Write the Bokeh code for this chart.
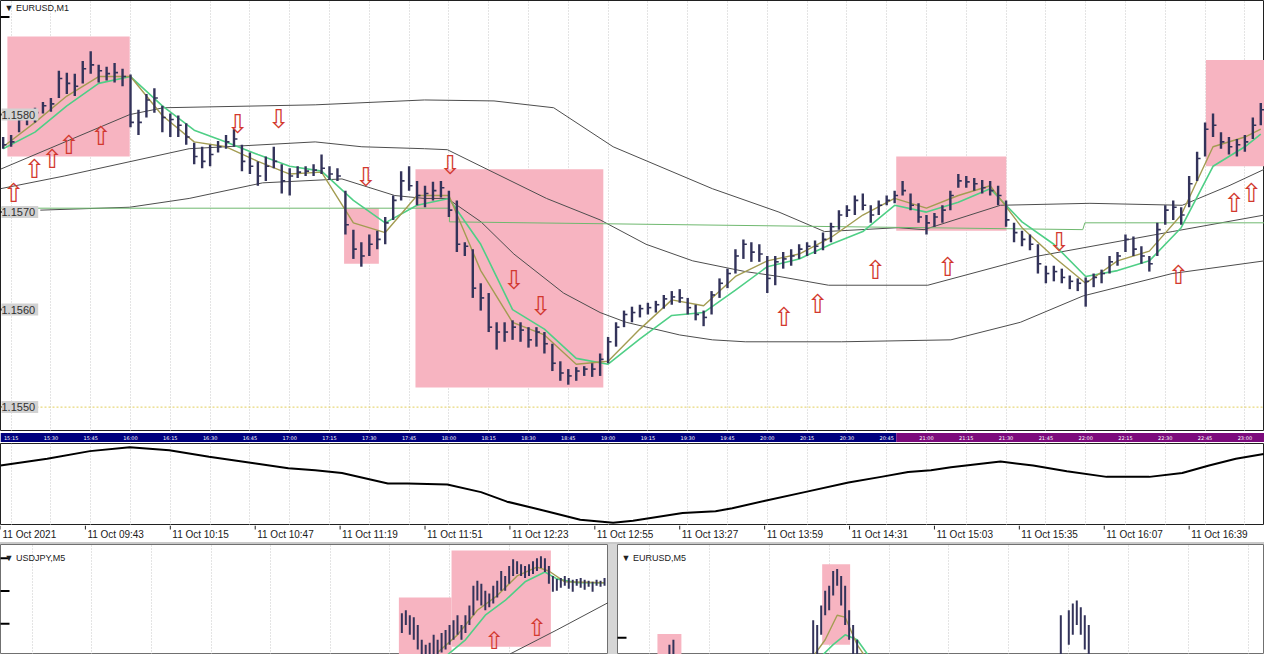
from bokeh.plotting import figure
from bokeh.models import Range1d, FixedTicker, Label, Span, Spacer
from bokeh.layouts import column, row
from bokeh.embed import file_html
from bokeh.resources import INLINE
from bokeh.core.properties import value

# ================= DATA =================
# ---- EURUSD,M1 main chart (time = minutes after 11 Oct 09:11, one sampled bar per 3 minutes)
bar_t = list(range(1, 476, 3))
bar_high = [1.15777,1.15779,1.15799,1.15805,1.15807,1.15813,1.15817,1.15845,1.15843,1.15842,
            1.15855,1.15865,1.15851,1.15849,1.15853,1.15847,1.15841,1.15805,1.15821,1.15827,
            1.15809,1.15801,1.15799,1.15791,1.15771,1.15767,1.15769,1.15773,1.15779,1.15785,
            1.15769,1.15761,1.15752,1.15757,1.15767,1.15749,1.15745,1.15747,1.15747,1.15749,
            1.15759,1.15747,1.15745,1.15722,1.15682,1.15669,1.15677,1.15681,1.15695,1.15717,
            1.15742,1.15747,1.15732,1.15727,1.15731,1.15732,1.15722,1.15712,1.15669,1.15662,
            1.15627,1.15617,1.15587,1.15587,1.15589,1.15587,1.15582,1.15582,1.15577,1.15565,
            1.15547,1.15539,1.15541,1.15542,1.15545,1.15555,1.15572,1.15587,1.15599,1.15603,
            1.15605,1.15607,1.15609,1.15615,1.15619,1.15621,1.15612,1.15605,1.15599,1.15619,
            1.15632,1.15642,1.15662,1.15672,1.15669,1.15667,1.15655,1.15655,1.15659,1.15662,
            1.15667,1.15669,1.15671,1.15679,1.15689,1.15702,1.15707,1.15717,1.15719,1.15707,
            1.15712,1.15717,1.15722,1.15732,1.15719,1.15709,1.15697,1.15699,1.15707,1.15722,
            1.15739,1.15737,1.15735,1.15733,1.15732,1.15727,1.15712,1.15689,1.15681,1.15677,
            1.15667,1.15645,1.15645,1.15642,1.15635,1.15632,1.15633,1.15637,1.15641,1.15655,
            1.15659,1.15677,1.15675,1.15665,1.15655,1.15689,1.15707,1.15712,1.15705,1.15737,
            1.15762,1.15792,1.15801,1.15782,1.15777,1.15775,1.15779,1.15797,1.15812]
bar_low = [1.15765,1.15767,1.15782,1.15789,1.15792,1.15801,1.15803,1.15817,1.15821,1.15819,
           1.15832,1.15842,1.15833,1.15835,1.15833,1.15829,1.15787,1.15779,1.15797,1.15802,
           1.15782,1.15777,1.15777,1.15769,1.15749,1.15745,1.15747,1.15761,1.15765,1.15767,
           1.15742,1.15739,1.15727,1.15732,1.15745,1.15719,1.15717,1.15735,1.15737,1.15737,
           1.15739,1.15733,1.15732,1.15677,1.15652,1.15644,1.15655,1.15662,1.15667,1.15692,
           1.15712,1.15722,1.15707,1.15705,1.15712,1.15715,1.15695,1.15659,1.15655,1.15612,
           1.15599,1.15577,1.15559,1.15567,1.15569,1.15567,1.15561,1.15562,1.15555,1.15537,
           1.15527,1.15523,1.15527,1.15532,1.15531,1.15532,1.15545,1.15562,1.15582,1.15587,
           1.15592,1.15595,1.15597,1.15601,1.15605,1.15607,1.15595,1.15589,1.15583,1.15595,
           1.15612,1.15622,1.15637,1.15652,1.15649,1.15649,1.15617,1.15625,1.15642,1.15645,
           1.15652,1.15655,1.15657,1.15661,1.15669,1.15682,1.15695,1.15697,1.15702,1.15689,
           1.15697,1.15707,1.15709,1.15717,1.15702,1.15689,1.15677,1.15685,1.15689,1.15702,
           1.15725,1.15725,1.15722,1.15719,1.15717,1.15707,1.15685,1.15669,1.15665,1.15661,
           1.15637,1.15627,1.15629,1.15627,1.15621,1.15619,1.15603,1.15623,1.15627,1.15637,
           1.15645,1.15659,1.15655,1.15647,1.15639,1.15655,1.15687,1.15692,1.15687,1.15705,
           1.15732,1.15757,1.15777,1.15765,1.15759,1.15757,1.15762,1.15775,1.15789]
bar_close = [1.15769,1.15772,1.15795,1.15799,1.15802,1.15809,1.15811,1.15837,1.15832,1.15829,
             1.15847,1.15851,1.15845,1.15842,1.15843,1.15839,1.15792,1.15792,1.15815,1.15817,
             1.15797,1.15795,1.15789,1.15777,1.15757,1.15752,1.15759,1.15767,1.15772,1.15775,
             1.15752,1.15747,1.15737,1.15747,1.15752,1.15732,1.15737,1.15741,1.15742,1.15743,
             1.15745,1.15739,1.15737,1.15687,1.15662,1.15655,1.15667,1.15672,1.15689,1.15712,
             1.15732,1.15727,1.15717,1.15719,1.15722,1.15725,1.15702,1.15667,1.15665,1.15622,
             1.15612,1.15582,1.15577,1.15577,1.15582,1.15579,1.15569,1.15577,1.15565,1.15545,
             1.15535,1.15532,1.15537,1.15539,1.15539,1.15549,1.15567,1.15582,1.15595,1.15597,
             1.15601,1.15602,1.15605,1.15611,1.15613,1.15612,1.15602,1.15595,1.15592,1.15615,
             1.15627,1.15637,1.15655,1.15667,1.15659,1.15657,1.15632,1.15649,1.15652,1.15655,
             1.15662,1.15665,1.15665,1.15672,1.15685,1.15697,1.15702,1.15712,1.15707,1.15697,
             1.15707,1.15712,1.15717,1.15722,1.15707,1.15695,1.15689,1.15695,1.15702,1.15717,
             1.15732,1.15731,1.15729,1.15725,1.15722,1.15717,1.15692,1.15679,1.15672,1.15667,
             1.15647,1.15637,1.15639,1.15633,1.15629,1.15627,1.15629,1.15633,1.15637,1.15649,
             1.15655,1.15672,1.15662,1.15655,1.15647,1.15682,1.15702,1.15705,1.15697,1.15729,
             1.15755,1.15785,1.15789,1.15772,1.15767,1.15769,1.15772,1.15789,1.15805]

ma_t = list(range(1, 470, 12)) + [475]
ma_fast = [1.15767,1.15792,1.15819,1.15839,1.15839,1.15799,1.15772,1.15767,1.15752,1.15739,
           1.15741,1.15689,1.15679,1.15717,1.15717,1.15640,1.15587,1.15574,1.15544,1.15547,
           1.15580,1.15610,1.15604,1.15634,1.15650,1.15657,1.15674,1.15697,1.15714,1.15704,
           1.15717,1.15727,1.15684,1.15654,1.15627,1.15650,1.15660,1.15697,1.15767,1.15777,1.15785]
ma_slow = [1.15765,1.15782,1.15809,1.15832,1.15839,1.15809,1.15784,1.15772,1.15759,1.15747,
           1.15742,1.15712,1.15689,1.15707,1.15714,1.15667,1.15600,1.15580,1.15550,1.15544,
           1.15570,1.15594,1.15597,1.15620,1.15644,1.15652,1.15667,1.15680,1.15707,1.15700,
           1.15710,1.15724,1.15690,1.15667,1.15634,1.15640,1.15650,1.15684,1.15747,1.15767,1.15780]

band_up_t = [0, 48.7, 61.4, 118.6, 159.8, 186.0, 208.5, 230.9, 268.3, 293.4, 310.6, 338.3,
             348.1, 376.9, 410.6, 445.4, 463.0, 476.4]
band_up = [1.15744,1.15800,1.15807,1.15810,1.15815,1.15814,1.15807,1.15767,1.15724,1.15700,
           1.15680,1.15684,1.15682,1.15707,1.15709,1.15707,1.15727,1.15744]
band_mid_t = [0, 24.0, 71.1, 118.6, 136.2, 159.8, 168.4, 181.1, 205.8, 226.0, 243.3, 260.9,
              280.7, 293.4, 312.1, 349.5, 389.2, 441.6, 476.4]
band_mid = [1.15724,1.15737,1.15765,1.15772,1.15767,1.15765,1.15764,1.15747,1.15714,1.15692,
            1.15667,1.15650,1.15639,1.15634,1.15625,1.15625,1.15654,1.15680,1.15697]
band_low_t = [15.0, 48.7, 71.1, 98.8, 128.7, 148.6, 159.8, 168.4, 181.1, 193.5, 212.2, 226.0,
              235.8, 256.0, 268.3, 280.7, 317.0, 358.2, 384.4, 408.0, 441.6, 476.4]
band_low = [1.15702,1.15705,1.15714,1.15730,1.15734,1.15717,1.15714,1.15714,1.15690,1.15657,
            1.15617,1.15597,1.15587,1.15574,1.15569,1.15567,1.15567,1.15569,1.15587,1.15614,
            1.15637,1.15650]

level_t = [0, 169.2, 169.2, 407.9, 408.7, 476.4]
level_p = [1.15704, 1.15704, 1.15690, 1.15682, 1.15689, 1.15689]

box_left = [2.6, 129.5, 156.4, 337.6, 454.3]
box_right = [48.7, 142.6, 227.2, 379.1, 476.4]
box_top = [1.15880, 1.15704, 1.15744, 1.15757, 1.15856]
box_bottom = [1.15757, 1.15647, 1.15520, 1.15681, 1.15747]

up_t = [5.0, 12.8, 19.5, 25.8, 37.8, 295.3, 308.0, 329.7, 357.0, 443.9, 465.0, 471.5]
up_p = [1.15720, 1.15744, 1.15754, 1.15769, 1.15778, 1.15592, 1.15606, 1.15641, 1.15644,
        1.15635, 1.15709, 1.15720]
dn_t = [89.4, 104.8, 137.7, 169.5, 193.5, 203.6, 399.0]
dn_p = [1.15790, 1.15795, 1.15736, 1.15748, 1.15630, 1.15604, 1.15669]

price_labels = [1.1580, 1.1570, 1.1560, 1.1550]
price_dash_ticks = [1.1590, 1.1580, 1.1570, 1.1560, 1.1550]
dotted_level = 1.1550

# time strip (server time = chart time + 6h)
strip_labels = ["15:15","15:30","15:45","16:00","16:15","16:30","16:45","17:00",
                "17:15","17:30","17:45","18:00","18:15","18:30","18:45","19:00",
                "19:15","19:30","19:45","20:00","20:15","20:30","20:45","21:00",
                "21:15","21:30","21:45","22:00","22:15","22:30","22:45","23:00"]
strip_left = [0, 337.6]
strip_right = [337.6, 476.4]
strip_colors = ["#00007e", "#7c0a7c"]

# oscillator pane
osc_t = [0, 17.6, 33.7, 48.7, 63.6, 78.6, 96.2, 108.5, 118.6, 128.7, 146.0, 153.4, 168.4,
         181.1, 190.9, 205.8, 218.5, 230.9, 238.4, 257.1, 269.5, 275.8, 288.2, 303.1, 319.6,
         331.9, 342.1, 350.7, 358.2, 376.9, 389.2, 401.9, 416.9, 433.0, 445.4, 455.5, 465.6, 476.1]
osc_v = [63, 70, 78, 82, 79, 72, 65, 60, 58, 55, 44, 44, 43, 35, 25, 15, 6, 3, 5, 13, 15, 18,
         26, 35, 45, 51, 56, 58, 61, 67, 63, 57, 51, 51, 55, 63, 70, 75]

axis_t = [0, 32, 64, 96, 128, 160, 192, 224, 256, 288, 320, 352, 384, 416, 448]
axis_labels = ["11 Oct 2021", "11 Oct 09:43", "11 Oct 10:15", "11 Oct 10:47", "11 Oct 11:19",
               "11 Oct 11:51", "11 Oct 12:23", "11 Oct 12:55", "11 Oct 13:27", "11 Oct 13:59",
               "11 Oct 14:31", "11 Oct 15:03", "11 Oct 15:35", "11 Oct 16:07", "11 Oct 16:39"]

# ---- USDJPY,M5 panel (bar index)
uj_k = list(range(101, 153))
uj_high = [113.264,113.282,113.252,113.240,113.192,113.102,113.072,113.084,113.132,113.102,
           113.144,113.162,113.192,113.222,113.252,113.192,113.252,113.312,113.432,113.462,
           113.444,113.402,113.384,113.432,113.462,113.522,113.492,113.552,113.594,113.582,
           113.564,113.552,113.564,113.582,113.600,113.612,113.600,113.552,113.492,113.474,
           113.480,113.492,113.480,113.468,113.474,113.480,113.468,113.462,113.456,113.468,
           113.462,113.480]
uj_low = [113.144,113.192,113.132,113.102,113.042,113.012,112.976,113.000,113.012,113.000,
          113.024,113.042,113.072,113.102,113.132,113.102,113.144,113.192,113.252,113.342,
          113.312,113.282,113.300,113.324,113.360,113.402,113.402,113.444,113.492,113.504,
          113.492,113.480,113.492,113.504,113.522,113.540,113.516,113.444,113.396,113.402,
          113.420,113.432,113.414,113.396,113.432,113.420,113.408,113.426,113.396,113.432,
          113.426,113.432]
uj_fast_k = [110, 115, 120, 125, 130, 135, 138, 142, 152]
uj_fast = [113.024, 113.132, 113.282, 113.372, 113.492, 113.546, 113.522, 113.456, 113.450]
uj_slow_k = [112, 117, 122, 127, 132, 137, 140, 145, 152]
uj_slow = [113.000, 113.102, 113.252, 113.342, 113.456, 113.516, 113.474, 113.450, 113.450]
uj_band_k = [127, 140, 153]
uj_band = [113.000, 113.162, 113.330]
uj_box_left = [100.25, 113.5]
uj_box_right = [113.5, 138.5]
uj_box_top = [113.360, 113.648]
uj_box_bottom = [112.952, 113.060]
uj_up_k = [124.25, 135]
uj_up_p = [113.095, 113.174]
uj_ticks = [113.2, 113.4, 113.6]
uj_grid = [8, 23, 38, 53, 68, 83, 98, 113, 128, 143]

# ---- EURUSD,M5 panel (bar index)
eu_k = [13, 14, 49, 50, 51, 52, 53, 54, 55, 56, 57, 58, 59, 60, 111, 113, 114, 115, 116, 117, 118]
eu_high = [1.15686,1.15696,1.15736,1.15726,1.15766,1.15796,1.15806,1.15836,1.15840,1.15826,
           1.15806,1.15756,1.15726,1.15696,1.15746,1.15756,1.15770,1.15776,1.15762,1.15746,1.15726]
eu_low = [1.15662,1.15666,1.15662,1.15666,1.15706,1.15746,1.15756,1.15786,1.15806,1.15766,
          1.15726,1.15696,1.15666,1.15662,1.15662,1.15686,1.15706,1.15726,1.15706,1.15676,1.15662]
eu_fast_k = [49, 52, 55, 57, 60, 62]
eu_fast = [1.15662, 1.15696, 1.15746, 1.15742, 1.15686, 1.15662]
eu_slow_k = [51, 54, 57, 60, 63]
eu_slow = [1.15662, 1.15686, 1.15706, 1.15696, 1.15662]
eu_box_left = [10.0, 51.25]
eu_box_right = [16.0, 58.25]
eu_box_top = [1.15708, 1.15850]
eu_box_bottom = [1.15646, 1.15686]
eu_ticks = [1.1570]
eu_grid = [8, 23, 38, 53, 68, 83, 98, 113, 128, 143, 158]

# ================= STYLE =================
W = 1264
BAR = "#33335a"
FAST = "#a39c52"
SLOW = "#4fcf86"
BAND = "#4d4d4d"
PINK = "#f7b4c1"
RED = "#d2382e"
GRID = "#c8c8c8"
FONT = "Liberation Sans"


def base_fig(width, height, x_range, y_range):
    p = figure(width=width, height=height, x_range=x_range, y_range=y_range,
               output_backend="svg", toolbar_location=None, min_border=0,
               background_fill_color="white", border_fill_color="white")
    p.xaxis.visible = False
    p.yaxis.visible = False
    p.ygrid.visible = False
    p.xgrid.grid_line_color = GRID
    p.xgrid.grid_line_dash = "1 2"
    p.outline_line_color = "#202020"
    return p


def strip_time(lbl):
    h, m = lbl.split(":")
    return (int(h) - 6) * 60 + int(m) - (9 * 60 + 11)


grid_t = [strip_time(s) for s in strip_labels]

# ---------- main chart ----------
xr = Range1d(0, 476.4)
main = base_fig(W, 431, xr, Range1d(1.15475, 1.15917))
main.xgrid.ticker = FixedTicker(ticks=grid_t)

main.quad(left=box_left, right=box_right, top=box_top, bottom=box_bottom,
          fill_color=PINK, line_color=None)
main.add_layout(Span(location=dotted_level, dimension="width", line_color="#e2cf5a",
                     line_dash="2 2", line_width=1))
main.line(band_up_t, band_up, line_color=BAND, line_width=1)
main.line(band_mid_t, band_mid, line_color=BAND, line_width=1)
main.line(band_low_t, band_low, line_color=BAND, line_width=1)
main.line(level_t, level_p, line_color="#6fb86f", line_width=1)
main.line(ma_t, ma_slow, line_color=SLOW, line_width=1.6)
main.line(ma_t, ma_fast, line_color=FAST, line_width=1.4)

tick_end = [t + 1.3 for t in bar_t]
main.segment(x0=bar_t, y0=bar_low, x1=bar_t, y1=bar_high, line_color=BAR, line_width=2.4)
main.segment(x0=bar_t, y0=bar_close, x1=tick_end, y1=bar_close, line_color=BAR, line_width=1.6)

main.text(x=up_t, y=up_p, text=["\u21e7"] * len(up_t), text_color=RED, text_font_size="26px",
          text_align="center", text_baseline="middle", text_font=value("DejaVu Sans"))
main.text(x=dn_t, y=dn_p, text=["\u21e9"] * len(dn_t), text_color=RED, text_font_size="26px",
          text_align="center", text_baseline="middle", text_font=value("DejaVu Sans"))

main.scatter(x=[xr.start] * len(price_dash_ticks), y=price_dash_ticks, marker="dash",
             size=18, line_color="black", line_width=2)
for pv in price_labels:
    main.add_layout(Label(x=1, x_units="screen", y=pv, text="%.4f " % pv,
                          text_font=FONT, text_font_size="11px", text_color="#303030",
                          text_baseline="middle", background_fill_color="#d2d2d2"))
main.add_layout(Label(x=4, y=424, x_units="screen", y_units="screen",
                      text="\u25bc EURUSD,M1", text_font=FONT, text_font_size="9px",
                      text_color="#202020", text_baseline="middle"))

# ---------- time strip ----------
strip = base_fig(W, 12, xr, Range1d(0, 1))
strip.xgrid.visible = False
strip.outline_line_color = None
strip.quad(left=strip_left, right=strip_right, bottom=0.12, top=0.88,
           fill_color=strip_colors, line_color=None)
strip.text(x=grid_t, y=[0.5] * len(grid_t), text=strip_labels, text_color="white",
           text_font_size="5px", text_align="center", text_baseline="middle",
           text_font=value("DejaVu Sans"))

# ---------- oscillator pane ----------
osc = base_fig(W, 82, xr, Range1d(0, 86))
osc.xgrid.ticker = FixedTicker(ticks=grid_t)
osc.line(osc_t, osc_v, line_color="black", line_width=2)

# ---------- time axis (labels left-aligned at their ticks) ----------
ax = base_fig(W, 17, xr, Range1d(0, 17))
ax.xgrid.visible = False
ax.outline_line_color = None
ax.segment(x0=axis_t, y0=[17] * len(axis_t), x1=axis_t, y1=[13] * len(axis_t),
           line_color="#202020", line_width=1)
ax.text(x=axis_t, y=[8] * len(axis_t), text=axis_labels, x_offset=2,
        text_align="left", text_baseline="middle", text_font_size="10px",
        text_color="#202020", text_font=value(FONT))

sep = Spacer(width=W, height=2, styles={"background-color": "#c9c9c9"})

# ---------- USDJPY,M5 ----------
uj_x = Range1d(0, 153)
uj = base_fig(608, 110, uj_x, Range1d(113.012, 113.684))
uj.xgrid.ticker = FixedTicker(ticks=uj_grid)
uj.outline_line_color = "#707070"
uj.quad(left=uj_box_left, right=uj_box_right, top=uj_box_top, bottom=uj_box_bottom,
        fill_color=PINK, line_color=None)
uj.line(uj_band_k, uj_band, line_color=BAND, line_width=1)
uj.line(uj_slow_k, uj_slow, line_color=SLOW, line_width=1.6)
uj.line(uj_fast_k, uj_fast, line_color=FAST, line_width=1.4)
uj.segment(x0=uj_k, y0=uj_low, x1=uj_k, y1=uj_high, line_color=BAR, line_width=2)
uj.text(x=uj_up_k, y=uj_up_p, text=["\u21e7"] * len(uj_up_k), text_color=RED,
        text_font_size="24px", text_align="center", text_baseline="middle",
        text_font=value("DejaVu Sans"))
uj.scatter(x=[uj_x.start] * len(uj_ticks), y=uj_ticks, marker="dash", size=18,
           line_color="black", line_width=2)
uj.add_layout(Label(x=4, y=97, x_units="screen", y_units="screen", text="\u25bc USDJPY,M5",
                    text_font=FONT, text_font_size="9px", text_color="#202020",
                    text_baseline="middle"))

gap = Spacer(width=9, height=110, styles={"background-color": "#d6d6d6"})

# ---------- EURUSD,M5 ----------
eu_x = Range1d(0, 162)
eu = base_fig(647, 110, eu_x, Range1d(1.15666, 1.15890))
eu.xgrid.ticker = FixedTicker(ticks=eu_grid)
eu.outline_line_color = "#707070"
eu.quad(left=eu_box_left, right=eu_box_right, top=eu_box_top, bottom=eu_box_bottom,
        fill_color=PINK, line_color=None)
eu.line(eu_slow_k, eu_slow, line_color=SLOW, line_width=1.6)
eu.line(eu_fast_k, eu_fast, line_color=FAST, line_width=1.4)
eu.segment(x0=eu_k, y0=eu_low, x1=eu_k, y1=eu_high, line_color=BAR, line_width=2)
eu.scatter(x=[eu_x.start] * len(eu_ticks), y=eu_ticks, marker="dash", size=18,
           line_color="black", line_width=2)
eu.add_layout(Label(x=4, y=97, x_units="screen", y_units="screen", text="\u25bc EURUSD,M5",
                    text_font=FONT, text_font_size="9px", text_color="#202020",
                    text_baseline="middle"))

layout = column(main, strip, osc, ax, sep, row(uj, gap, eu, spacing=0), spacing=0)
open("out.html", "w").write(file_html(layout, INLINE))
